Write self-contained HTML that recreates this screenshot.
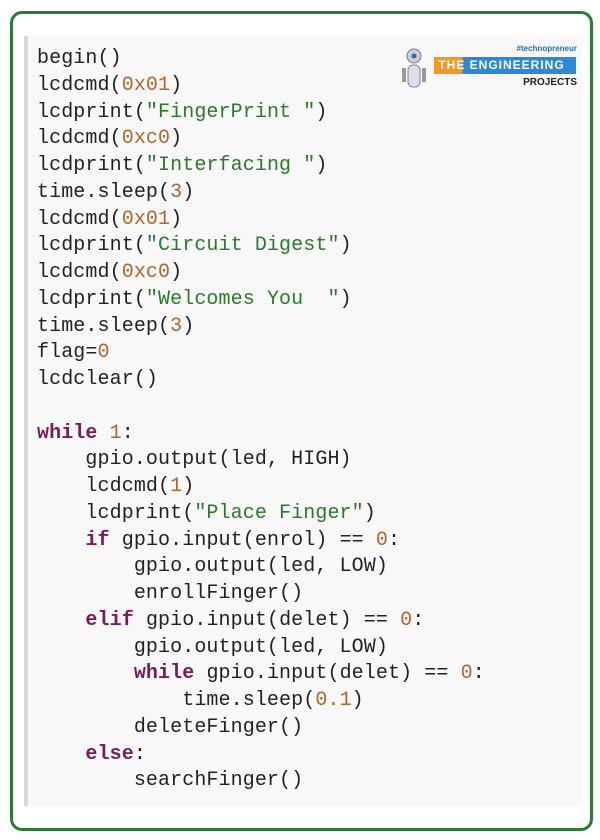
<!DOCTYPE html>
<html><head><style>
body{margin:0;width:600px;height:840px;background:#fff;position:relative;overflow:hidden}
.frame{position:absolute;left:10px;top:11px;width:577px;height:814px;border:3px solid #2b7a35;border-radius:12px}
.code{position:absolute;left:24px;top:36px;width:554px;height:770px;background:#f8f8f8;border-left:4px solid #d8d8d8}
pre{position:absolute;left:37px;top:46px;margin:0;font-family:"Liberation Mono",monospace;font-size:20px;line-height:26.75px;color:#222;letter-spacing:0.1px}
.k{color:#7a1a5c;font-weight:bold}.n{color:#b3652a}.s{color:#2a7a2a}
.logo{position:absolute;left:400px;top:44px;width:180px;height:50px;font-family:"Liberation Sans",sans-serif}
</style></head><body>
<div class="frame"></div>
<div class="code"></div>
<pre>begin()
lcdcmd(<span class="n">0x01</span>)
lcdprint(<span class="s">"FingerPrint "</span>)
lcdcmd(<span class="n">0xc0</span>)
lcdprint(<span class="s">"Interfacing "</span>)
time.sleep(<span class="n">3</span>)
lcdcmd(<span class="n">0x01</span>)
lcdprint(<span class="s">"Circuit Digest"</span>)
lcdcmd(<span class="n">0xc0</span>)
lcdprint(<span class="s">"Welcomes You  "</span>)
time.sleep(<span class="n">3</span>)
flag=<span class="n">0</span>
lcdclear()

<span class="k">while</span> <span class="n">1</span>:
    gpio.output(led, HIGH)
    lcdcmd(<span class="n">1</span>)
    lcdprint(<span class="s">"Place Finger"</span>)
    <span class="k">if</span> gpio.input(enrol) == <span class="n">0</span>:
        gpio.output(led, LOW)
        enrollFinger()
    <span class="k">elif</span> gpio.input(delet) == <span class="n">0</span>:
        gpio.output(led, LOW)
        <span class="k">while</span> gpio.input(delet) == <span class="n">0</span>:
            time.sleep(<span class="n">0.1</span>)
        deleteFinger()
    <span class="k">else</span>:
        searchFinger()</pre>
<div class="logo">
<svg width="30" height="50" style="position:absolute;left:0;top:2px"><circle cx="14" cy="10" r="7" fill="#ccd" stroke="#777"/><circle cx="14" cy="10" r="2.5" fill="#2a6db5"/><rect x="8" y="19" width="12" height="22" rx="5" fill="#dde" stroke="#888"/><rect x="2" y="22" width="4" height="14" fill="#999"/><rect x="22" y="22" width="4" height="14" fill="#999"/></svg>
<div style="position:absolute;right:3px;top:0;font-size:8px;color:#2a6db5;font-weight:bold">#technopreneur</div>
<div style="position:absolute;left:34px;top:13px;width:142px;height:17px;background:linear-gradient(90deg,#f29a1f 0 20%,#2a8ad6 20%);color:#fff;font-weight:bold;font-size:12px;line-height:17px;letter-spacing:1px;white-space:nowrap;overflow:hidden">&nbsp;THE&nbsp;ENGINEERING</div>
<div style="position:absolute;right:3px;top:33px;font-size:10px;font-weight:bold;color:#222">PROJECTS</div>
</div>
</body></html>
